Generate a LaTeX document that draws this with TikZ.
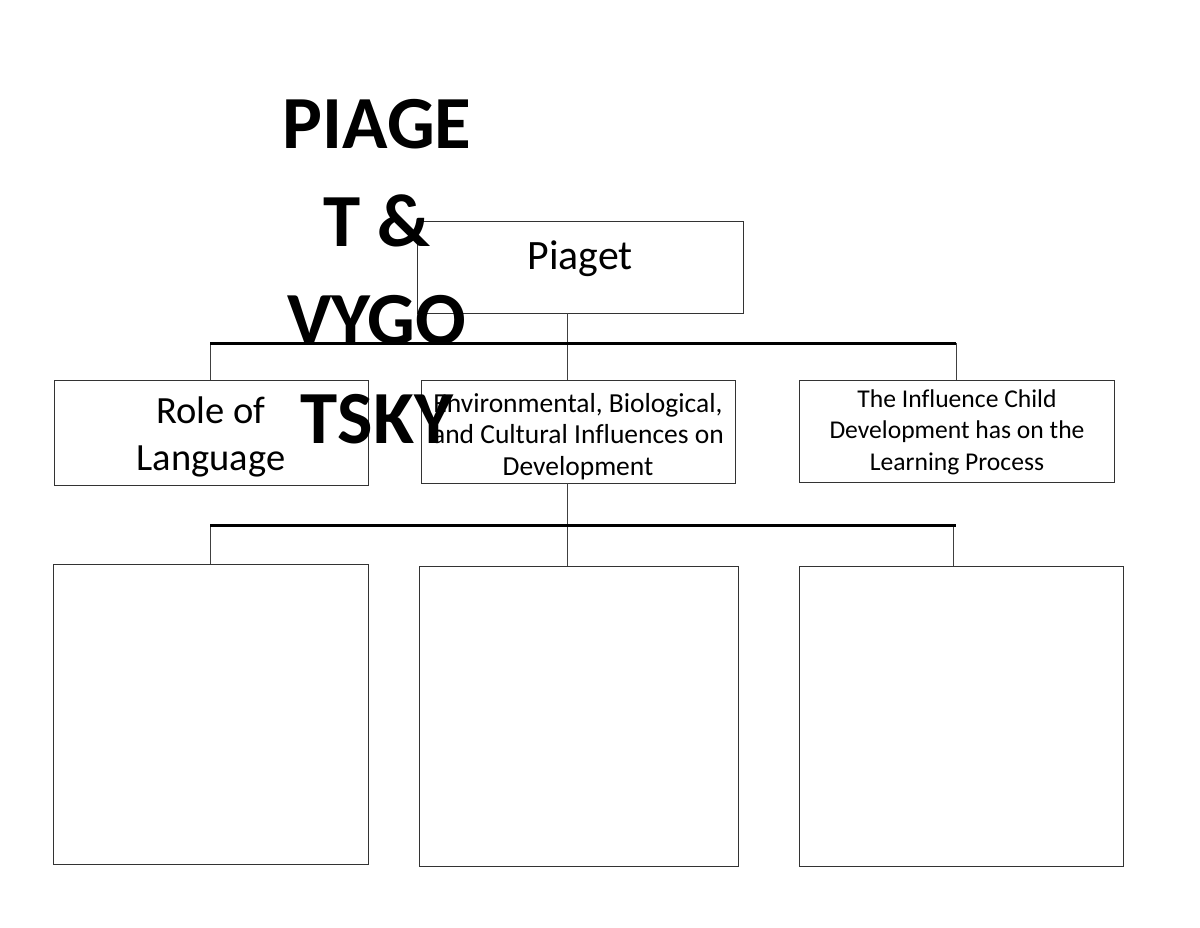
\documentclass[tikz,border=0pt]{standalone}
\usepackage{fontspec}
\setmainfont[Ligatures=CommonOff]{Carlito}
\begin{document}
\begin{tikzpicture}[x=1pt,y=-1pt,
  box/.style={draw=black!80, line width=0.9pt, rectangle, inner sep=0pt},
  thin/.style={draw=black!75, line width=0.9pt},
  bar/.style={draw=black, line width=3pt},
  lbl/.style={inner sep=0pt, align=center, anchor=base}]
\useasboundingbox (0,0) rectangle (1200,927);
% boxes
\node[box, minimum width=326pt, minimum height=92pt] (piaget) at (580,267) {};
\node[box, minimum width=314pt, minimum height=105pt] (l1) at (211,432.5) {};
\node[box, minimum width=314pt, minimum height=103pt] (m1) at (578,431.5) {};
\node[box, minimum width=315pt, minimum height=102pt] (r1) at (956.5,431) {};
\node[box, minimum width=315pt, minimum height=300pt] (l2) at (210.5,714) {};
\node[box, minimum width=319pt, minimum height=300pt] (m2) at (578.5,716) {};
\node[box, minimum width=324pt, minimum height=300pt] (r2) at (961,716) {};
% texts (anchor = baseline of last line)
\node[lbl, font=\fontsize{41.8}{48}\selectfont] (tpiaget) at (580,269) {Piaget};
\node[lbl, font=\fontsize{38.5}{47}\selectfont] (tl1) at (211,470) {Role of\\Language};
\node[lbl, font=\fontsize{27.5}{31.5}\selectfont] (tm1) at (578,475) {Environmental, Biological,\\and Cultural Influences on\\Development};
\node[lbl, font=\fontsize{25.6}{31.5}\selectfont] (tr1) at (957,470) {The Influence Child\\Development has on the\\Learning Process};
% connector coordinates
\coordinate (j1) at (567,343);
\coordinate (h1l) at (210,343);
\coordinate (h1r) at (956,343);
\coordinate (j2) at (567,525);
\coordinate (h2l) at (210,525);
\coordinate (h2r) at (956,525);
\coordinate (d2r) at (953,525);
% level 1 connectors
\draw[thin] (piaget.south -| j1) -- (j1);
\draw[thin] (h1l) -- (l1.north -| h1l);
\draw[thin] (j1) -- (m1.north -| j1);
\draw[thin] (h1r) -- (r1.north -| h1r);
\draw[bar] (h1l) -- (h1r);
% level 2 connectors
\draw[thin] (m1.south -| j2) -- (j2);
\draw[thin] (h2l) -- (l2.north -| h2l);
\draw[thin] (j2) -- (m2.north -| j2);
\draw[thin] (d2r) -- (r2.north -| d2r);
\draw[bar] (h2l) -- (h2r);
% title
\node[lbl, font=\fontsize{75}{98.3}\selectfont\bfseries] (title) at (377,443) {PIAGE\\T \&\\VYGO\\TSKY};
\end{tikzpicture}
\end{document}
